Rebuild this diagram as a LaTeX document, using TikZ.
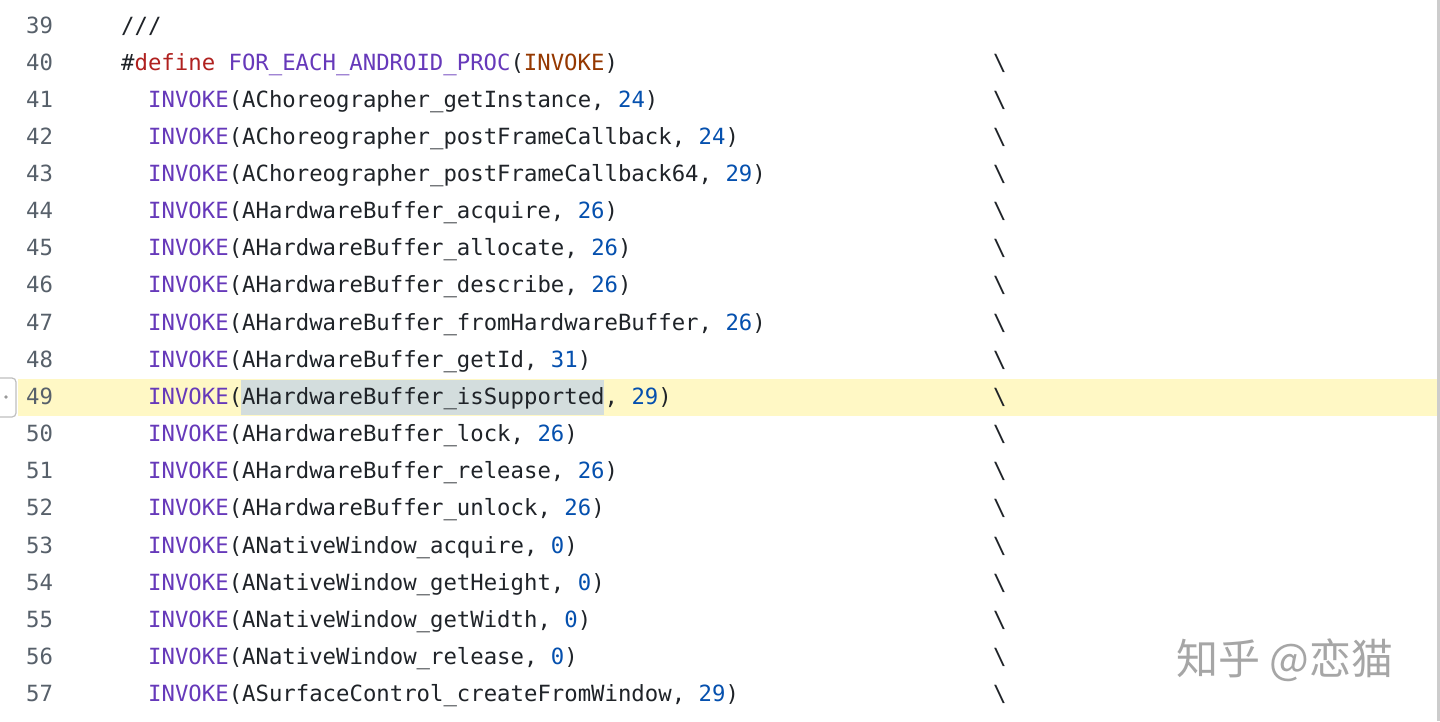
\documentclass[tikz,border=0pt]{standalone}
\usepackage{fontspec}
\setmonofont{DejaVu Sans Mono}
\newfontfamily\cjk{Noto Sans CJK SC}
\definecolor{lnum}{HTML}{57606A}
\definecolor{kw}{HTML}{6639BA}
\definecolor{num}{HTML}{0550AE}
\definecolor{def}{HTML}{B0211F}
\definecolor{arg}{HTML}{953800}
\definecolor{code}{HTML}{1F2328}
\definecolor{hl}{HTML}{FFF8C5}
\definecolor{sel}{HTML}{D3DDDD}
\tikzset{txt/.style={inner sep=0pt,anchor=base west,font=\ttfamily\fontsize{22.3}{22}\selectfont,text=code}}
\newcommand{\inv}[4]{%
  \node[txt,text=lnum] (n#2) at (26,#1) {#2};
  \node[txt] (c#2) at (148,#1) {\textcolor{kw}{INVOKE}(#3, \textcolor{num}{#4})};
  \node[txt] (b#2) at (993,#1) {\textbackslash};}
\begin{document}
\begin{tikzpicture}[x=1pt,y=-1pt]
\useasboundingbox (0,0) rectangle (1440,721);
\fill[white] (0,0) rectangle (1440,721);
\fill[hl] (18,379) rectangle (1440,416);
\fill[sel] (241,380) rectangle (604,415);
\draw[gray!50,line width=1.2pt,fill=white,rounded corners=4pt] (-6,378) rectangle (16,417);
\fill[gray!80] (6,397) circle (1.8);
\node[txt,text=lnum] (n39) at (26,33) {39};
\node[txt] (c39) at (121,33) {///};
\node[txt,text=lnum] (n40) at (26,70) {40};
\node[txt] (c40) at (121,70) {\#\textcolor{def}{define} \textcolor{kw}{FOR\_EACH\_ANDROID\_PROC}(\textcolor{arg}{INVOKE})};
\node[txt] (b40) at (993,70) {\textbackslash};
\inv{107}{41}{AChoreographer\_getInstance}{24}
\inv{144}{42}{AChoreographer\_postFrameCallback}{24}
\inv{181}{43}{AChoreographer\_postFrameCallback64}{29}
\inv{218}{44}{AHardwareBuffer\_acquire}{26}
\inv{255}{45}{AHardwareBuffer\_allocate}{26}
\inv{292}{46}{AHardwareBuffer\_describe}{26}
\inv{330}{47}{AHardwareBuffer\_fromHardwareBuffer}{26}
\inv{367}{48}{AHardwareBuffer\_getId}{31}
\inv{404}{49}{AHardwareBuffer\_isSupported}{29}
\inv{441}{50}{AHardwareBuffer\_lock}{26}
\inv{478}{51}{AHardwareBuffer\_release}{26}
\inv{515}{52}{AHardwareBuffer\_unlock}{26}
\inv{553}{53}{ANativeWindow\_acquire}{0}
\inv{590}{54}{ANativeWindow\_getHeight}{0}
\inv{627}{55}{ANativeWindow\_getWidth}{0}
\inv{664}{56}{ANativeWindow\_release}{0}
\inv{701}{57}{ASurfaceControl\_createFromWindow}{29}
\node[inner sep=0pt,anchor=west,font=\cjk\fontsize{42}{42}\selectfont,text=black!35] (wm) at (1176,660) {知乎 @恋猫};
\fill[gray!40] (1437,0) rectangle (1440,721);
\end{tikzpicture}
\end{document}
